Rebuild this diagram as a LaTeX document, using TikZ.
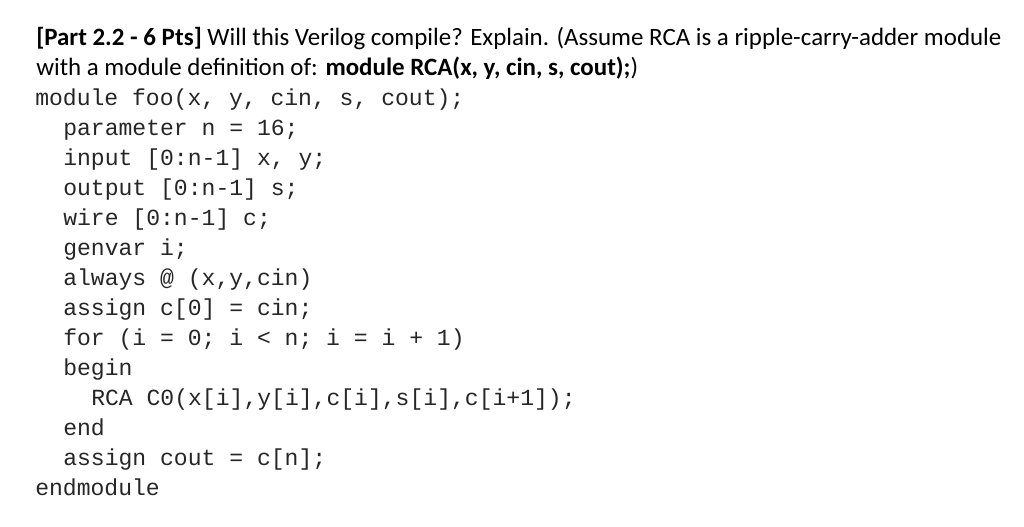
\documentclass[tikz,border=0pt]{standalone}
\usepackage{fontspec}
\setmainfont{Carlito}
\newfontfamily\codefont{Liberation Mono}
\usetikzlibrary{positioning}

\begin{document}
\begin{tikzpicture}[x=0.75pt,y=-0.75pt,
  head/.style={anchor=base west,inner sep=0pt,font=\fontsize{18.7}{22}\selectfont},
  code/.style={anchor=base west,inner sep=0pt,font=\codefont\fontsize{17.3}{20}\selectfont,text=black!85}]

  \useasboundingbox (0,0) rectangle (1024,526);

  % question text
  \node [head] (q1) at (36,45)
    {\textbf{[Part 2.2 - 6 Pts]} Will this Verilog compile? Explain. (Assume RCA is a ripple-carry-adder module};
  \node [head] (q2) at (36,75)
    {with a module definition of: \textbf{module RCA(x, y, cin, s, cout);})};

  % verilog listing
  \node [code] (l1)  at (35,105) {module foo(x, y, cin, s, cout);};
  \node [code] (l2)  at (63,135) {parameter n = 16;};
  \node [code] (l3)  at (63,165) {input [0:n-1] x, y;};
  \node [code] (l4)  at (63,195) {output [0:n-1] s;};
  \node [code] (l5)  at (63,225) {wire [0:n-1] c;};
  \node [code] (l6)  at (63,255) {genvar i;};
  \node [code] (l7)  at (63,285) {always @ (x,y,cin)};
  \node [code] (l8)  at (63,315) {assign c[0] = cin;};
  \node [code] (l9)  at (63,345) {for (i = 0; i < n; i = i + 1)};
  \node [code] (l10) at (63,375) {begin};
  \node [code] (l11) at (91,405) {RCA C0(x[i],y[i],c[i],s[i],c[i+1]);};
  \node [code] (l12) at (63,435) {end};
  \node [code] (l13) at (63,465) {assign cout = c[n];};
  \node [code] (l14) at (35,495) {endmodule};
\end{tikzpicture}
\end{document}
